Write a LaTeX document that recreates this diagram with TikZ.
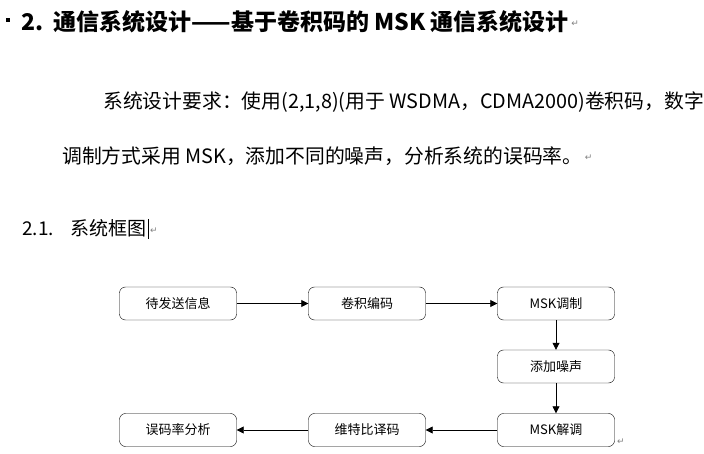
\documentclass[tikz,border=0pt]{standalone}
\usepackage{fontspec}
\setmainfont{Noto Sans CJK SC}
\newfontfamily\dv{DejaVu Sans}
\usetikzlibrary{arrows.meta}
\begin{document}
\begin{tikzpicture}[x=1pt,y=-1pt,
  box/.style={draw,rounded corners=6pt,minimum width=117pt,minimum height=33pt,font=\fontsize{13}{15}\selectfont,inner sep=0pt},
  arr/.style={-{Triangle[length=7pt,width=7pt]},line width=0.8pt},
  ret/.style={text=gray,font=\dv\fontsize{9}{10}\selectfont,inner sep=0pt},
  txt/.style={anchor=west,inner sep=0pt}]
\useasboundingbox (0,0) rectangle (704,454);
\fill (6,18) rectangle (10,22);
\node[txt,font=\bfseries\fontsize{23}{26}\selectfont] (h) at (21,22) {2.\ \ 通信系统设计——基于卷积码的 MSK 通信系统设计};
\node[ret,anchor=west] (r1) at ([xshift=2pt,yshift=-2pt]h.east) {↵};
\node[txt,font=\fontsize{19.8}{22}\selectfont] (p1) at (103,102) {系统设计要求：使用(2,1,8)(用于 WSDMA，CDMA2000)卷积码，数字};
\node[txt,font=\fontsize{19.8}{22}\selectfont] (p2) at (62,156) {调制方式采用 MSK，添加不同的噪声，分析系统的误码率。};
\node[ret,anchor=west] (r2) at ([xshift=2pt,yshift=-2pt]p2.east) {↵};
\node[txt,font=\fontsize{19}{21}\selectfont] (s) at (22,228) {2.1.\ \ \ \ 系统框图};
\draw[line width=0.6pt] (148,219) -- (148,239);
\node[ret,anchor=west] (r3) at (150,231) {↵};
\node[box] (a) at (178,303.5) {待发送信息};
\node[box] (b) at (367,303.5) {卷积编码};
\node[box] (c) at (556,303.5) {MSK调制};
\node[box] (d) at (556,366.5) {添加噪声};
\node[box] (e) at (556,430) {MSK解调};
\node[box] (f) at (367,430) {维特比译码};
\node[box] (g) at (178,430) {误码率分析};
\node[ret,anchor=west] (r4) at (617,442) {↵};
\draw[arr] (a) -- (b);
\draw[arr] (b) -- (c);
\draw[arr] (c) -- (d);
\draw[arr] (d) -- (e);
\draw[arr] (e) -- (f);
\draw[arr] (f) -- (g);
\end{tikzpicture}
\end{document}
